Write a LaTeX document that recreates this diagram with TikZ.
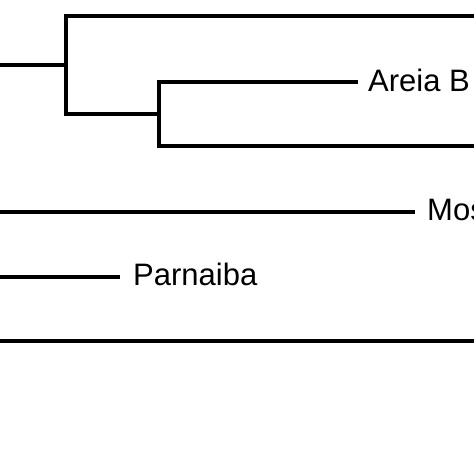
\documentclass[tikz,border=0pt]{standalone}
\usepackage{fontspec}
\setmainfont{Liberation Sans}
\begin{document}
\begin{tikzpicture}[x=1pt,y=-1pt,
  branch/.style={line width=3.2pt, line join=miter, line cap=butt, black},
  leaf/.style={anchor=base west, inner sep=0pt, font=\fontsize{31}{31}\selectfont}]
\useasboundingbox (0,0) rectangle (474,474);
\clip (0,0) rectangle (474,474);
% named coordinates
\coordinate (r0) at (-2,65);
\coordinate (n1) at (66,65);
\coordinate (n1t) at (66,16);
\coordinate (n1b) at (66,114);
\coordinate (t1) at (476,16);
\coordinate (n2) at (159,114);
\coordinate (n2t) at (159,82);
\coordinate (n2b) at (159,146);
\coordinate (a1) at (358,82);
\coordinate (t3) at (476,146);
\coordinate (m0) at (-2,212);
\coordinate (m1) at (415,212);
\coordinate (p0) at (-2,277);
\coordinate (p1) at (120,277);
\coordinate (b0) at (-2,341);
\coordinate (b1) at (476,341);
% labels
\node[leaf] (areia) at (368,91) {Areia B};
\node[leaf] (mos) at (427,220.5) {Mos};
\node[leaf] (parn) at (133,285) {Parnaiba};
% branches
\draw[branch] (r0) -- (n1);
\draw[branch] (t1) -- (n1t) -- (n1b) -- (n2);
\draw[branch] (a1) -- (n2t) -- (n2b) -- (t3);
\draw[branch] (m0) -- (m1);
\draw[branch] (p0) -- (p1);
\draw[branch] (b0) -- (b1);
\end{tikzpicture}
\end{document}
